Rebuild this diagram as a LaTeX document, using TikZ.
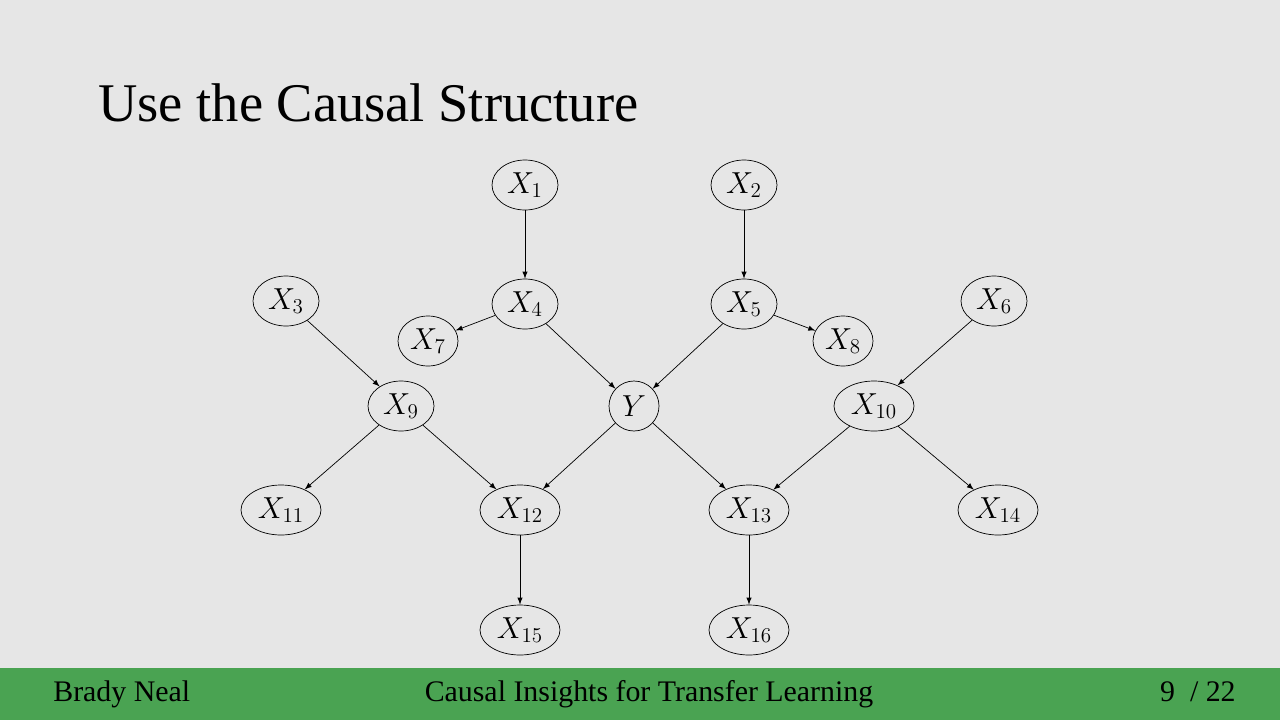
\documentclass[tikz,border=0pt]{standalone}
\usepackage{fontspec}
\setmainfont{Liberation Serif}
\usetikzlibrary{shapes.geometric}
\definecolor{slidebg}{HTML}{E6E6E6}
\definecolor{footgreen}{HTML}{4AA352}
\tikzset{
  var/.style={draw,ellipse,inner sep=0pt,minimum height=1cm,minimum width=1.32cm,font=\fontsize{17}{20}\selectfont},
  wvar/.style={var,minimum width=1.6cm},
  edge/.style={-latex,thin}
}
\begin{document}
\begin{tikzpicture}[x=0.02cm,y=-0.02cm]
  \fill[slidebg] (0,0) rectangle (1280,720);
  \fill[footgreen] (0,668) rectangle (1280,720);
  \node[anchor=base west,inner sep=0pt,font=\fontsize{31}{36}\selectfont] (title) at (98,121) {Use the Causal Structure};
  \node[anchor=base west,inner sep=0pt,font=\fontsize{17}{20}\selectfont] (author) at (53,701) {Brady Neal};
  \node[anchor=base,inner sep=0pt,font=\fontsize{17}{20}\selectfont] (talk) at (649,701) {Causal Insights for Transfer Learning};
  \node[anchor=base east,inner sep=0pt,font=\fontsize{17}{20}\selectfont] (page) at (1236,701) {9~~/ 22};
  % nodes
  \node[var] (x1) at (525,185) {$X_1$};
  \node[var] (x2) at (744,185) {$X_2$};
  \node[var] (x3) at (286,301) {$X_3$};
  \node[var] (x4) at (525,304) {$X_4$};
  \node[var] (x5) at (744,304) {$X_5$};
  \node[var] (x6) at (994,301) {$X_6$};
  \node[var,minimum width=1.2cm] (x7) at (428,341) {$X_7$};
  \node[var,minimum width=1.2cm] (x8) at (843,341) {$X_8$};
  \node[var] (x9) at (401,406) {$X_9$};
  \node[var,minimum width=1cm] (y) at (634,406) {$Y$};
  \node[wvar] (x10) at (874,406) {$X_{10}$};
  \node[wvar] (x11) at (281,510) {$X_{11}$};
  \node[wvar] (x12) at (520,510) {$X_{12}$};
  \node[wvar] (x13) at (749,510) {$X_{13}$};
  \node[wvar] (x14) at (998,510) {$X_{14}$};
  \node[wvar] (x15) at (520,630) {$X_{15}$};
  \node[wvar] (x16) at (749,630) {$X_{16}$};
  % edges
  \draw[edge] (x1) -- (x4);
  \draw[edge] (x2) -- (x5);
  \draw[edge] (x4) -- (x7);
  \draw[edge] (x5) -- (x8);
  \draw[edge] (x4) -- (y);
  \draw[edge] (x5) -- (y);
  \draw[edge] (x3) -- (x9);
  \draw[edge] (x6) -- (x10);
  \draw[edge] (x9) -- (x11);
  \draw[edge] (x9) -- (x12);
  \draw[edge] (y) -- (x12);
  \draw[edge] (y) -- (x13);
  \draw[edge] (x10) -- (x13);
  \draw[edge] (x10) -- (x14);
  \draw[edge] (x12) -- (x15);
  \draw[edge] (x13) -- (x16);
\end{tikzpicture}
\end{document}
